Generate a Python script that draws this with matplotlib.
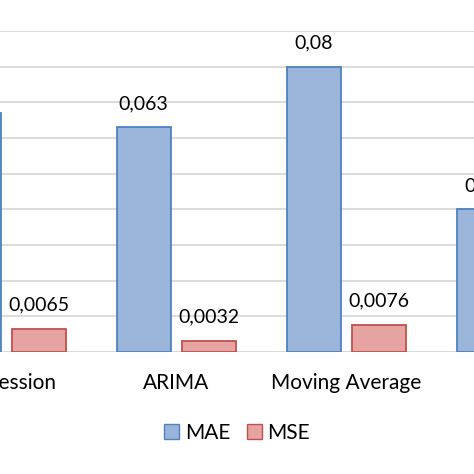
import numpy as np
import matplotlib
matplotlib.use("Agg")
import matplotlib.pyplot as plt
from matplotlib.patches import Patch

plt.rcParams['font.family'] = ['Lato', 'DejaVu Sans']

categories = ["Regression", "ARIMA", "Moving Average", "LSTM"]
mae = [0.067, 0.063, 0.08, 0.04]
mse = [0.0065, 0.0032, 0.0076, 0.0030]
y_ticks = [0.0, 0.01, 0.02, 0.03, 0.04, 0.05, 0.06, 0.07, 0.08, 0.09]

MAE_FILL, MAE_EDGE = "#9BB5DA", "#4F81BD"
MSE_FILL, MSE_EDGE = "#E5A3A2", "#C0504D"

fig = plt.figure(figsize=(4.74, 4.74), dpi=100)
ax = fig.add_axes([0.0, 0.2574, 1.0, 0.6772])

x = np.arange(len(categories))
w = 0.318
off = 0.192
b1 = ax.bar(x - off, mae, w, color=MAE_FILL, edgecolor=MAE_EDGE, linewidth=1.3, zorder=3)
b2 = ax.bar(x + off, mse, w, color=MSE_FILL, edgecolor=MSE_EDGE, linewidth=1.3, zorder=3)

def fmt(v):
    return ("%g" % v).replace(".", ",")

for bars, vals in [(b1, mae), (b2, mse)]:
    for r, v in zip(bars, vals):
        ax.annotate(fmt(v), (r.get_x() + r.get_width() / 2, v), xytext=(0, 13),
                    textcoords="offset points", ha="center", va="baseline",
                    fontsize=14, color="#000000", annotation_clip=False)

for i, c in enumerate(categories):
    ax.text(i, -0.1153, c, transform=ax.get_xaxis_transform(), ha="center",
            va="baseline", fontsize=15, color="#000000")

ax.set_xlim(-0.0371, 2.751)
ax.set_ylim(0, 0.09)
ax.set_yticks(y_ticks)
ax.yaxis.grid(True, color="#D9D9D9", linewidth=1.3, zorder=0)
ax.tick_params(left=False, bottom=False, labelleft=False, labelbottom=False)
for s in ax.spines.values():
    s.set_visible(False)
ax.axhline(0, color="#D9D9D9", linewidth=1.3, zorder=2)

handles = [Patch(facecolor=MAE_FILL, edgecolor=MAE_EDGE, label="MAE"),
           Patch(facecolor=MSE_FILL, edgecolor=MSE_EDGE, label="MSE")]
fig.legend(handles=handles, loc="center", bbox_to_anchor=(0.5, 0.0865), ncol=2,
           frameon=False, fontsize=15, handlelength=0.75, handleheight=0.75,
           handletextpad=0.25, columnspacing=0.8)

fig.savefig("out.png", dpi=100)
